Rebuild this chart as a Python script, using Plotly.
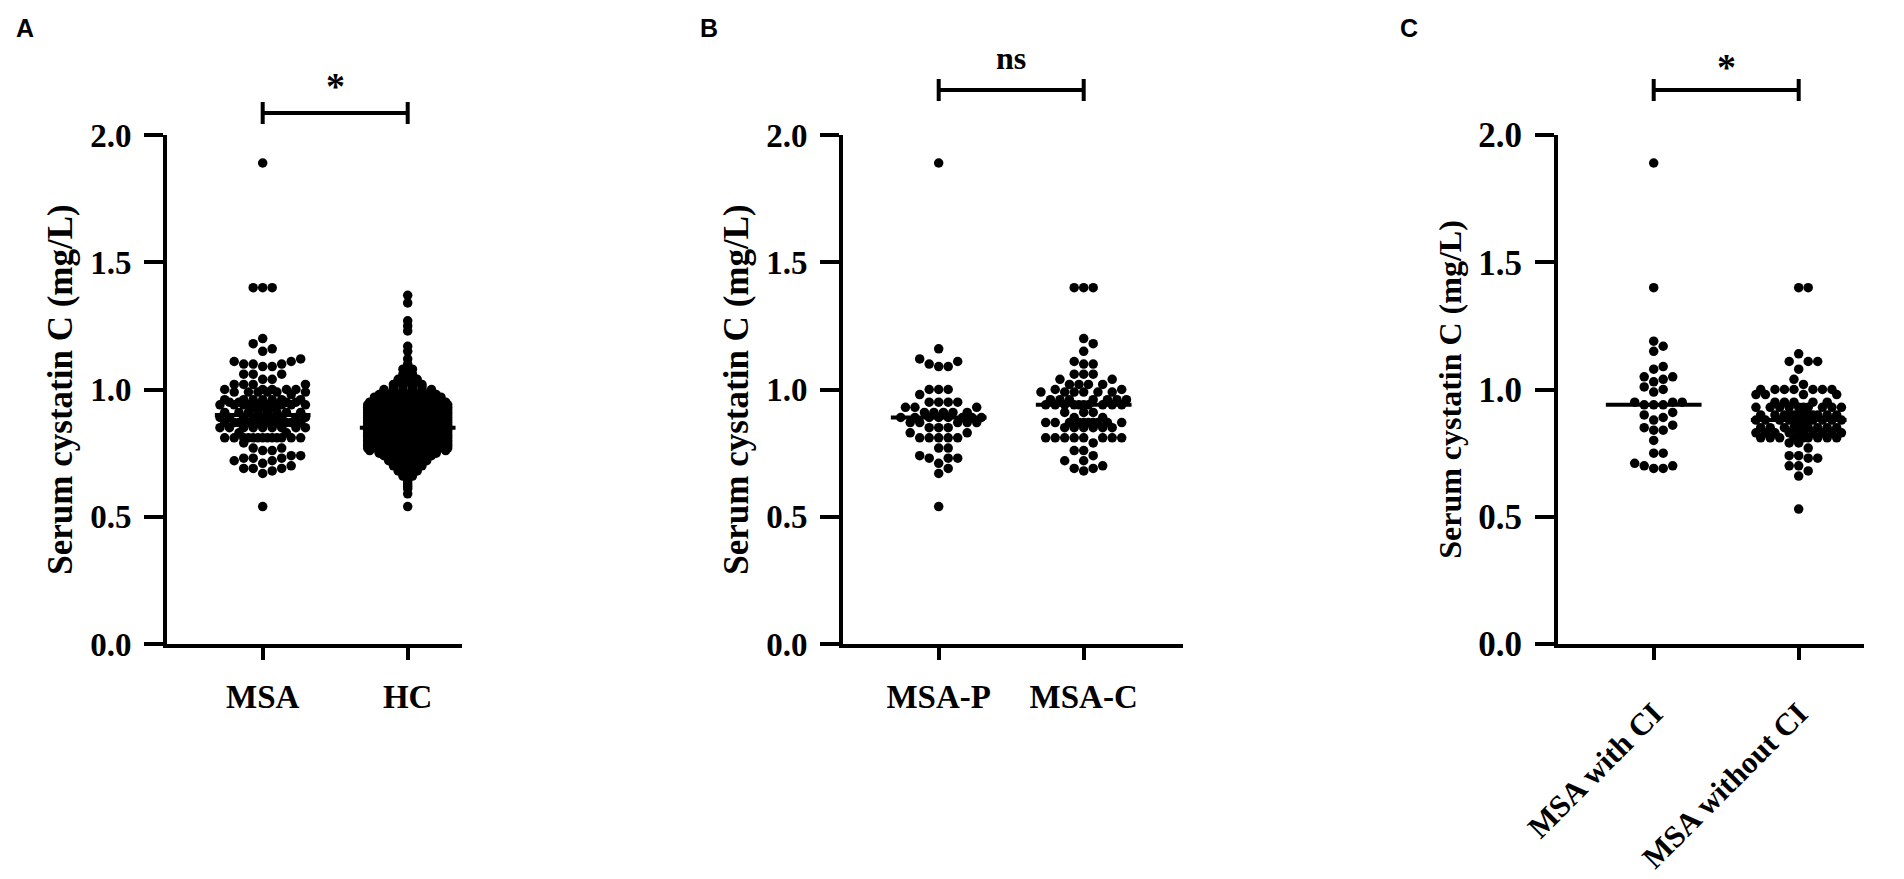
import numpy as np
import plotly.graph_objects as go

# ------------------------------------------------------------------ data
# Panel B
msa_p = [1.89, 1.16, 1.12, 1.11, 1.10, 1.09, 1.09, 1.00, 1.00, 1.00, 0.98,
         0.95, 0.95, 0.95, 0.95, 0.93, 0.93, 0.93, 0.91, 0.91, 0.91, 0.91, 0.91,
         0.89, 0.89, 0.89, 0.89, 0.89, 0.89, 0.89, 0.89,
         0.87, 0.87, 0.87, 0.87, 0.87, 0.85, 0.85, 0.85, 0.83, 0.83,
         0.81, 0.81, 0.81, 0.81, 0.81, 0.77, 0.77, 0.74, 0.73, 0.73, 0.73,
         0.71, 0.69, 0.67, 0.54]
msa_c = [1.40, 1.40, 1.40, 1.20, 1.18, 1.15, 1.11, 1.10, 1.10, 1.06, 1.06, 1.06,
         1.04, 1.04, 1.02, 1.02, 1.02, 1.02, 1.00, 1.00,
         0.99, 0.99, 0.99, 0.99, 0.99, 0.99,
         0.96, 0.96, 0.96, 0.96, 0.96, 0.96, 0.96,
         0.94, 0.94, 0.94, 0.94, 0.94, 0.94, 0.94, 0.94, 0.94, 0.94,
         0.91, 0.91, 0.91, 0.89, 0.89,
         0.87, 0.87, 0.87, 0.87, 0.87, 0.87, 0.87, 0.87, 0.87, 0.87,
         0.85, 0.85, 0.85, 0.85, 0.85, 0.85,
         0.81, 0.81, 0.81, 0.81, 0.81, 0.81, 0.81, 0.81,
         0.79, 0.76, 0.76, 0.74, 0.72, 0.72, 0.70, 0.69, 0.69, 0.68]
# Panel A (MSA = MSA-P together with MSA-C)
msa_all = msa_p + msa_c
hc_levels = [1.37, 1.34, 1.27, 1.25, 1.23, 1.17, 1.15, 1.12, 1.10,
             1.08, 1.07, 1.06, 1.05, 1.04, 1.03, 1.02, 1.01, 1.00,
             0.99, 0.98, 0.97, 0.96, 0.95, 0.94, 0.93, 0.92, 0.91, 0.90,
             0.89, 0.88, 0.87, 0.86, 0.85, 0.84, 0.83, 0.82, 0.81, 0.80,
             0.79, 0.78, 0.77, 0.76, 0.75, 0.74, 0.73, 0.72, 0.71, 0.70,
             0.69, 0.68, 0.67, 0.66, 0.65, 0.64, 0.63, 0.62, 0.61,
             0.59, 0.54]
hc_counts = [1, 1, 1, 1, 1, 1, 1, 1, 1,
             2, 1, 2, 2, 3, 3, 4, 4, 6,
             6, 7, 8, 8, 9, 10, 10, 11, 11, 12,
             12, 13, 13, 14, 15, 17, 17, 17, 16, 16,
             15, 14, 11, 9, 7, 6, 5, 5, 4, 4,
             3, 3, 2, 2, 1, 1, 1, 1, 1,
             1, 1]
assert len(hc_levels) == len(hc_counts)
hc = [float(v) for v in np.repeat(hc_levels, hc_counts)]
# Panel C
with_ci = [1.89, 1.40, 1.19, 1.17, 1.15, 1.09, 1.08, 1.05, 1.05, 1.04, 1.03,
           1.01, 1.00, 0.99, 0.95, 0.95, 0.95, 0.94, 0.94, 0.94, 0.91, 0.90,
           0.89, 0.88, 0.86, 0.85, 0.84, 0.84, 0.80, 0.75, 0.75, 0.71, 0.70,
           0.70, 0.69, 0.69]
without_ci = [1.40, 1.40, 1.14, 1.11, 1.11, 1.11, 1.08, 1.04, 1.02,
              1.00, 1.00, 1.00, 1.00, 1.00, 1.00, 1.00,
              0.98, 0.98, 0.98, 0.98, 0.95, 0.95, 0.95, 0.95, 0.95,
              0.93, 0.93, 0.93, 0.93, 0.93, 0.93, 0.93, 0.93, 0.93, 0.93,
              0.90, 0.90, 0.90, 0.90, 0.90, 0.90, 0.90, 0.90, 0.90, 0.90, 0.90, 0.90,
              0.88, 0.88, 0.88, 0.88, 0.88, 0.88, 0.88, 0.88, 0.88, 0.88, 0.88, 0.88,
              0.85, 0.85, 0.85, 0.85, 0.85, 0.85, 0.85, 0.85, 0.85, 0.85,
              0.83, 0.83, 0.83, 0.83, 0.83, 0.83, 0.83, 0.83, 0.83, 0.83,
              0.81, 0.81, 0.81, 0.81, 0.81, 0.81, 0.81, 0.81, 0.81, 0.81,
              0.79, 0.79, 0.77, 0.74, 0.74, 0.73, 0.73, 0.70, 0.70, 0.68, 0.66, 0.53]

cats_a = ["MSA", "HC"]
cats_b = ["MSA-P", "MSA-C"]
cats_c = ["MSA with CI", "MSA without CI"]
sig_a, sig_b, sig_c = "*", "ns", "*"
y_ticks = [0.0, 0.5, 1.0, 1.5, 2.0]
y_title = "Serum cystatin C (mg/L)"

# ------------------------------------------------------------------ layout params
PAGE_W, PAGE_H = 1904, 879
OFF = 8                                 # default body margin of the html page
FW, FH = PAGE_W - OFF, PAGE_H - OFF     # figure size
Y_TOP_PX, Y_BOT_PX = 135, 644           # page rows of 2.0 and 0.0
YMAX = 2.0
PPU_Y = (Y_BOT_PX - Y_TOP_PX) / YMAX
PPU_X = 145.0
XMIN = -0.66
DOT = 9.5
MAXW = 44
ROW_MAXW = 40
SERIF = "Liberation Serif"
SANS = "Liberation Sans"


def xp(px):
    return (px - OFF) / FW


def yp(py):
    return 1 - (py - OFF) / FH


panels = [
    dict(letter="A", letter_px=14, axis_px=167, end_px=462, cats=cats_a, groups=[msa_all, hc],
         layouts=["swarm", "rows"], sig=sig_a, br_px=113, sig_px=86,
         tsize=33, xsize=33, xangle=0, xstand=8, titsize=35),
    dict(letter="B", letter_px=698, axis_px=843, end_px=1183, cats=cats_b, groups=[msa_p, msa_c],
         layouts=["swarm", "swarm"], sig=sig_b, br_px=90, sig_px=58,
         tsize=33, xsize=33, xangle=0, xstand=8, titsize=35),
    dict(letter="C", letter_px=1398, axis_px=1558, end_px=1864, cats=cats_c, groups=[with_ci, without_ci],
         layouts=["swarm", "swarm"], sig=sig_c, br_px=90, sig_px=67,
         tsize=35, xsize=31, xangle=-45, xstand=23, titsize=32),
]


def swarm_offsets(vals, d, ppu_y, maxw, step):
    vals = np.asarray(vals, float)
    order = np.argsort(vals, kind="stable")
    cands = [0.0]
    k = 1
    while k * step <= maxw + 1e-9:
        cands += [k * step, -k * step]
        k += 1
    cands = np.array(cands)
    xs = np.zeros(len(vals))
    px, py = [], []
    for i in order:
        y = vals[i] * ppu_y
        c = 0.0
        if px:
            PX = np.array(px)
            PY = np.array(py)
            near = np.abs(PY - y) < d
            if near.any():
                dx = cands[:, None] - PX[near][None, :]
                dy = (PY[near] - y)[None, :]
                dist = np.sqrt(dx ** 2 + dy ** 2).min(axis=1)
                ok = np.where(dist >= d * 0.999)[0]
                c = cands[ok[0]] if len(ok) else cands[int(np.argmax(dist))]
        xs[i] = c
        px.append(c)
        py.append(y)
    return xs


def row_offsets(vals, d, maxw):
    """GraphPad-like rows: equal values share a row, spread by one dot width, capped."""
    vals = np.round(np.asarray(vals, float), 3)
    xs = np.zeros(len(vals))
    for v in np.unique(vals):
        idx = np.where(vals == v)[0]
        n = len(idx)
        if n == 1:
            continue
        sp = min(d, 2 * maxw / (n - 1))
        xs[idx] = (np.arange(n) - (n - 1) / 2) * sp
    return xs


fig = go.Figure()
shapes, annotations = [], []
ydom = [yp(Y_BOT_PX), yp(Y_TOP_PX)]

for k, p in enumerate(panels):
    sfx = "" if k == 0 else str(k + 1)
    xa, ya = "x" + sfx, "y" + sfx
    x0px, x1px = p["axis_px"], p["end_px"]
    xmax = XMIN + (x1px - x0px) / PPU_X
    fig.update_layout(**{
        "xaxis" + sfx: dict(
            domain=[xp(x0px), xp(x1px)], range=[XMIN, xmax], anchor=ya, automargin=False,
            tickvals=[0, 1], ticktext=p["cats"], tickangle=p["xangle"],
            ticklabelstandoff=p["xstand"],
            showline=True, linewidth=4, linecolor="black", mirror=False,
            ticks="outside", ticklen=12, tickwidth=4, tickcolor="black",
            showgrid=False, zeroline=False, fixedrange=True,
            tickfont=dict(family=SERIF, size=p["xsize"], color="black", weight="bold"),
        ),
        "yaxis" + sfx: dict(
            domain=ydom, range=[0, YMAX], anchor=xa, automargin=False,
            tickvals=y_ticks, ticktext=[f"{v:.1f}" for v in y_ticks],
            ticklabelstandoff=6,
            showline=True, linewidth=4, linecolor="black",
            ticks="outside", ticklen=19, tickwidth=4, tickcolor="black",
            showgrid=False, zeroline=False, fixedrange=True,
            tickfont=dict(family=SERIF, size=p["tsize"], color="black", weight="bold"),
            title=dict(text=y_title, standoff=8,
                       font=dict(family=SERIF, size=p["titsize"], color="black", weight="bold")),
        ),
    })
    for gi, (vals, lay) in enumerate(zip(p["groups"], p["layouts"])):
        if lay == "rows":
            off = row_offsets(vals, DOT, ROW_MAXW)
        else:
            off = swarm_offsets(vals, DOT, PPU_Y, MAXW, DOT / 2)
        fig.add_trace(go.Scatter(
            x=gi + off / PPU_X, y=vals, mode="markers", xaxis=xa, yaxis=ya,
            marker=dict(size=DOT, color="black", line=dict(width=0)),
            showlegend=False, hoverinfo="y", cliponaxis=False))
        med = float(np.median(vals))
        fig.add_trace(go.Scatter(
            x=[gi - 0.33, gi + 0.33], y=[med, med], mode="lines", xaxis=xa, yaxis=ya,
            line=dict(color="black", width=4), showlegend=False, hoverinfo="skip",
            cliponaxis=False))

    # significance bracket (paper coordinates derived from category positions)
    cx = [xp(x0px + (i - XMIN) * PPU_X) for i in (0, 1)]
    by = yp(p["br_px"])
    tick = 11 / FH
    line = dict(color="black", width=4)
    shapes.append(dict(type="line", xref="paper", yref="paper",
                       x0=cx[0], x1=cx[1], y0=by, y1=by, line=line))
    for c in cx:
        shapes.append(dict(type="line", xref="paper", yref="paper",
                           x0=c, x1=c, y0=by - tick, y1=by + tick, line=line))
    annotations.append(dict(xref="paper", yref="paper", x=(cx[0] + cx[1]) / 2,
                            y=yp(p["sig_px"]), text=p["sig"], showarrow=False,
                            xanchor="center", yanchor="middle",
                            font=dict(family=SERIF, size=38 if p["sig"] == "*" else 32,
                                      color="black", weight="bold")))
    annotations.append(dict(xref="paper", yref="paper", x=xp(p["letter_px"]),
                            y=yp(28), text=p["letter"], showarrow=False,
                            xanchor="left", yanchor="middle",
                            font=dict(family=SANS, size=25, color="black", weight="bold")))

fig.update_layout(width=FW, height=FH, margin=dict(l=0, r=0, t=0, b=0, autoexpand=False),
                  paper_bgcolor="white", plot_bgcolor="white",
                  shapes=shapes, annotations=annotations, showlegend=False)
fig.write_html("out.html")
